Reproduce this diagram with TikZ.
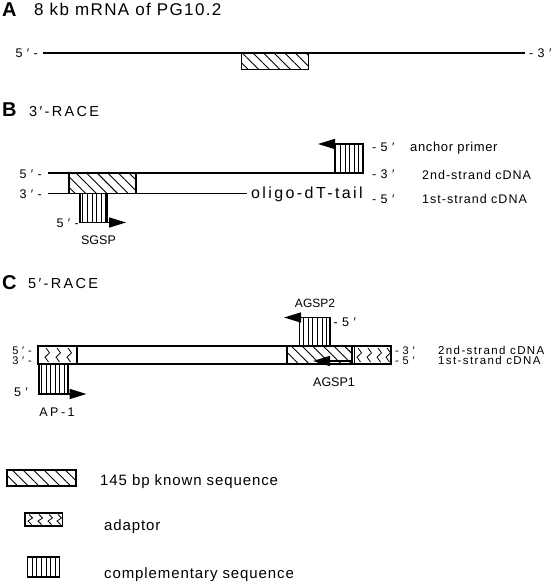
\documentclass[tikz,border=0pt]{standalone}
\usepackage{fontspec}
\setmainfont{Liberation Sans}
\usetikzlibrary{patterns.meta,arrows.meta}
\newcommand\ff[2]{\fontsize{#1}{#1}\selectfont\addfontfeature{LetterSpace=#2}}
\newcommand\zig[3]{\draw[zz] (#1-1,#2) -- (#1+2.5,{#2+0.35*(#3-#2)}) -- (#1-2,{#2+0.65*(#3-#2)}) -- (#1+1.5,#3);}
\begin{document}
\begin{tikzpicture}[x=1pt,y=-1pt,
  strand/.style={line width=1.3pt},
  box/.style={draw,line width=1.6pt,inner sep=0pt,outer sep=0pt,anchor=north west},
  hatchbox/.style={box,pattern={Lines[angle=-45,distance=7.5pt,line width=0.9pt]}},
  compbox/.style={box,pattern={Lines[angle=90,distance=4.6pt,line width=0.9pt]}},
  adbox/.style={box,fill=white},
  primer/.style={line width=1.6pt,-{Triangle[length=17pt,width=10pt]}},
  zz/.style={line width=0.8pt},
  panel/.style={inner sep=0pt,anchor=base west,font=\bfseries\fontsize{20}{20}\selectfont},
  ttl/.style={inner sep=0pt,anchor=base west,font=\ff{14.5}{16}},
  lab/.style={inner sep=0pt,anchor=base west,font=\ff{12.5}{8}},
  endlab/.style={inner sep=0pt,font=\ff{12.5}{35}},
  clab/.style={inner sep=0pt,font=\ff{11}{35}},
  leg/.style={inner sep=0pt,anchor=base west,font=\ff{15}{6}}
]
\useasboundingbox (0,0) rectangle (552,585);

% ---------- Panel A ----------
\node[panel] (lA) at (2,17) {A};
\node[inner sep=0pt,anchor=base west,font=\ff{17}{8}] (tA) at (34,16) {8 kb mRNA of PG10.2};
\coordinate (A5) at (43,53);
\coordinate (A3) at (525,53);
\draw[strand] (A5) -- (A3);
\node[hatchbox,minimum width=67pt,minimum height=16.5pt] (hA) at (241.5,53) {};
\node[endlab,anchor=base east] (A5l) at (38,57.5) {5′-};
\node[endlab,anchor=base west] (A3l) at (529,57.5) {-3′};

% ---------- Panel B ----------
\node[panel] (lB) at (2,117) {B};
\node[ttl] (tB) at (29,116.5) {3′-RACE};
\coordinate (B2a) at (47.5,173);
\coordinate (B2b) at (363,173);
\coordinate (B1a) at (47.5,193.5);
\coordinate (B1b) at (246.5,193.5);
\draw[strand] (B2a) -- (B2b);
\draw[strand] (B1a) -- (B1b);
\node[hatchbox,minimum width=67pt,minimum height=20.5pt] (hB) at (68.7,173) {};
\node[compbox,minimum width=27pt,minimum height=29pt] (sgsp) at (80,193.5) {};
\coordinate (sgspTip) at (126,222.5);
\draw[primer] (sgsp.south west) -- (sgspTip);
\node[compbox,minimum width=28pt,minimum height=29pt] (anc) at (335,144) {};
\coordinate (ancTip) at (318,144);
\draw[primer] (anc.north east) -- (ancTip);
\node[inner sep=0pt,anchor=base west,font=\ff{16}{15}] (olig) at (251,198.5) {oligo-dT-tail};
\node[endlab,anchor=base east] (B5l) at (42,178.5) {5′-};
\node[endlab,anchor=base east] (B3l) at (42,198.5) {3′-};
\node[endlab,anchor=base east] (sg5) at (79,227) {5′-};
\node[inner sep=0pt,anchor=base,font=\ff{12.5}{0}] (sgl) at (98.5,244.5) {SGSP};
\node[endlab,anchor=base west] (r1) at (372,152) {-5′};
\node[lab,font=\ff{13}{5}] (anl) at (410,152) {anchor primer};
\node[endlab,anchor=base west] (r2) at (372,178.5) {-3′};
\node[lab] (s2B) at (422,179) {2nd-strand cDNA};
\node[endlab,anchor=base west] (r3) at (372,204) {-5′};
\node[lab] (s1B) at (422,204) {1st-strand cDNA};

% ---------- Panel C ----------
\node[panel] (lC) at (2,289) {C};
\node[ttl] (tC) at (28,288) {5′-RACE};
\node[box,fill=white,minimum width=353pt,minimum height=18pt] (dsC) at (38,346) {};
\node[adbox,minimum width=39pt,minimum height=18pt] (adL) at (38,346) {};
\foreach \x in {47,58,69} {\zig{\x}{348}{362}}
\node[hatchbox,minimum width=65pt,minimum height=18pt] (hC) at (287,346) {};
\node[adbox,minimum width=36.5pt,minimum height=18pt] (adR) at (354.5,346) {};
\foreach \x in {359,369,379,388} {\zig{\x}{348}{362}}
\node[compbox,minimum width=30.5pt,minimum height=28.5pt] (ag2) at (299.5,317.5) {};
\coordinate (ag2Tip) at (284,317.5);
\draw[primer] (ag2.north east) -- (ag2Tip);
\coordinate (ag1s) at (351,361);
\coordinate (ag1Tip) at (313,361);
\draw[primer] (ag1s) -- (ag1Tip);
\node[compbox,minimum width=29.3pt,minimum height=30pt] (ap1) at (38.7,364) {};
\coordinate (ap1Tip) at (86.5,394);
\draw[primer] (ap1.south west) -- (ap1Tip);
\node[inner sep=0pt,anchor=base,font=\ff{12}{0}] (ag2l) at (315,307) {AGSP2};
\node[endlab,anchor=base west] (ag25) at (333.5,326) {-5′};
\node[inner sep=0pt,anchor=base,font=\ff{12.5}{0}] (ag1l) at (334,386) {AGSP1};
\node[endlab,anchor=base east] (ap5) at (28,396.5) {5′};
\node[inner sep=0pt,anchor=base,font=\ff{12.5}{20}] (ap1l) at (57,416) {AP-1};
\node[clab,anchor=base east] (C5l) at (32,354) {5′-};
\node[clab,anchor=base east] (C3l) at (32,364) {3′-};
\node[clab,anchor=base west] (rc1) at (395,354.5) {-3′};
\node[lab,font=\ff{11.5}{12}] (s2C) at (438,354.5) {2nd-strand cDNA};
\node[clab,anchor=base west] (rc2) at (395,364.5) {-5′};
\node[lab,font=\ff{11.5}{12}] (s1C) at (438,364.5) {1st-strand cDNA};

% ---------- Legend ----------
\node[hatchbox,minimum width=69pt,minimum height=16pt] (lgH) at (7,470) {};
\node[leg] (lgHt) at (100,485.5) {145 bp known sequence};
\node[adbox,minimum width=37.5pt,minimum height=13pt] (lgA) at (25,513) {};
\foreach \x in {30,40,50,59} {\zig{\x}{514.5}{524.5}}
\node[leg] (lgAt) at (104,530) {adaptor};
\node[compbox,minimum width=32pt,minimum height=20pt] (lgC) at (27.3,556.7) {};
\node[leg] (lgCt) at (104,578) {complementary sequence};
\end{tikzpicture}
\end{document}
